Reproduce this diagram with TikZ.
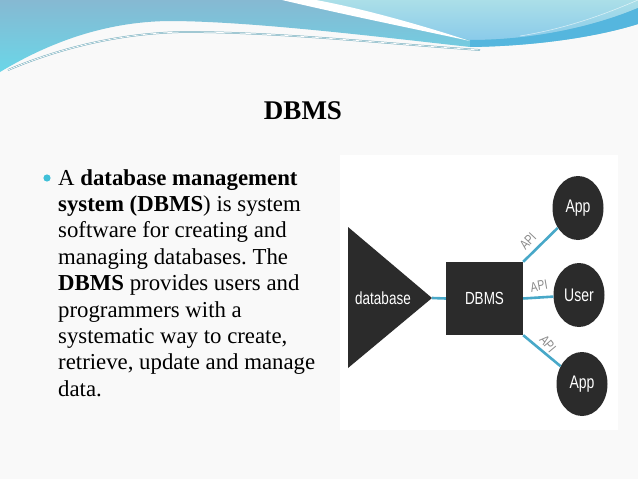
\documentclass[tikz,border=0pt]{standalone}
\usepackage{fontspec}
\usepackage{graphicx}
\setmainfont{Liberation Serif}
\newfontfamily\diagfont{Liberation Sans}
\usetikzlibrary{shapes.geometric}
\definecolor{slidebg}{HTML}{F9F9F9}
\definecolor{bandtop}{HTML}{86B9D2}
\definecolor{bandbot}{HTML}{6AD6E8}
\definecolor{lighttop}{HTML}{ABDFE8}
\definecolor{lightbot}{HTML}{8ACBEA}
\definecolor{rightband}{HTML}{55B6DE}
\definecolor{thinline}{HTML}{6FAABB}
\definecolor{bulletc}{HTML}{40C0D8}
\definecolor{darkfill}{HTML}{2B2B2B}
\definecolor{linkc}{HTML}{48A8C8}
\definecolor{apic}{HTML}{8A8A8A}
\tikzset{
  darkshape/.style={fill=darkfill, draw=none},
  ellnode/.style={darkshape, ellipse, minimum width=51pt, minimum height=64pt, inner sep=0pt, text=white, font=\diagfont\fontsize{14}{15}\selectfont},
  boxnode/.style={darkshape, rectangle, minimum width=77pt, minimum height=73pt, inner sep=0pt, text=white, font=\diagfont\fontsize{13.5}{14}\selectfont},
  link/.style={draw=linkc, line width=2.6pt},
  apilabel/.style={text=apic, font=\diagfont\fontsize{10.5}{11}\selectfont, inner sep=0pt},
}
\newcommand{\tallt}[1]{\scalebox{1}[1.3]{#1}}
\begin{document}
\begin{tikzpicture}[x=1pt, y=-1pt]
\useasboundingbox (0,0) rectangle (638,479);
% background
\fill[slidebg] (0,0) rectangle (638,479);
% header waves
\shade[top color=bandtop, bottom color=bandbot]
  (0,0) -- (0,72) .. controls (50,42) and (105,22) .. (168,21)
  .. controls (250,21) and (380,37) .. (470,47)
  .. controls (540,46) and (600,36) .. (638,24) -- (638,0) -- cycle;
\shade[top color=lighttop, bottom color=lightbot]
  (312,0) .. controls (370,12) and (430,30) .. (470,40)
  .. controls (540,40) and (600,24) .. (638,8) -- (638,0) -- cycle;
\fill[rightband]
  (470,40) .. controls (540,40) and (600,24) .. (638,8) -- (638,24)
  .. controls (600,36) and (540,46) .. (470,47) -- cycle;
\fill[white]
  (282,0) .. controls (350,16) and (420,30) .. (470,41)
  .. controls (430,28) and (370,10) .. (316,0) -- cycle;
\draw[thinline, line width=0.5pt, double=white, double distance=0.7pt]
  (8,70) .. controls (60,48) and (120,33) .. (185,32)
  .. controls (280,32) and (390,44) .. (480,50);
\draw[white, opacity=0.6, line width=0.6pt]
  (520,36) .. controls (570,28) and (610,12) .. (638,0);
% title
\node[anchor=base, font=\bfseries\fontsize{27}{30}\selectfont, inner sep=0pt] (title) at (303,119) {DBMS};
% bullet and body text
\fill[bulletc] (47,178) circle (3.6);
\node[anchor=base west, inner sep=0pt] (body) at (58,185)
  {\parbox[t]{280pt}{\fontsize{22.8}{26.4}\selectfont\frenchspacing\raggedright
  A \textbf{database management}\\
  \textbf{system (DBMS}) is system\\
  software for creating and\\
  managing databases. The\\
  \textbf{DBMS} provides users and\\
  programmers with a\\
  systematic way to create,\\
  retrieve, update and manage\\
  data.}};
% diagram image background
\fill[white] (340,155) rectangle (618,430);
% triangle (database)
\coordinate (triapex) at (432,298);
\fill[darkfill] (348,227) -- (triapex) -- (348,368) -- cycle;
\node[text=white, font=\diagfont\fontsize{13.5}{14}\selectfont, inner sep=0pt] (database) at (383,298) {\tallt{database}};
% DBMS box
\node[boxnode] (dbms) at (484.5,298.5) {\tallt{DBMS}};
% ellipses
\node[ellnode] (app1) at (578,208) {\tallt{App}};
\node[ellnode] (user) at (579,295) {\tallt{User}};
\node[ellnode] (app2) at (582,384) {\tallt{App}};
% connectors
\draw[link] (triapex) -- (dbms.west);
\draw[link] (dbms.north east) -- (app1);
\draw[link] (dbms.east) -- (user);
\draw[link] (dbms.south east) -- (app2);
% API labels
\node[apilabel, rotate=47] (api1) at (528,241) {\tallt{API}};
\node[apilabel, rotate=10] (api2) at (539,286) {\tallt{API}};
\node[apilabel, rotate=-50] (api3) at (548,344) {\tallt{API}};
\end{tikzpicture}
\end{document}
